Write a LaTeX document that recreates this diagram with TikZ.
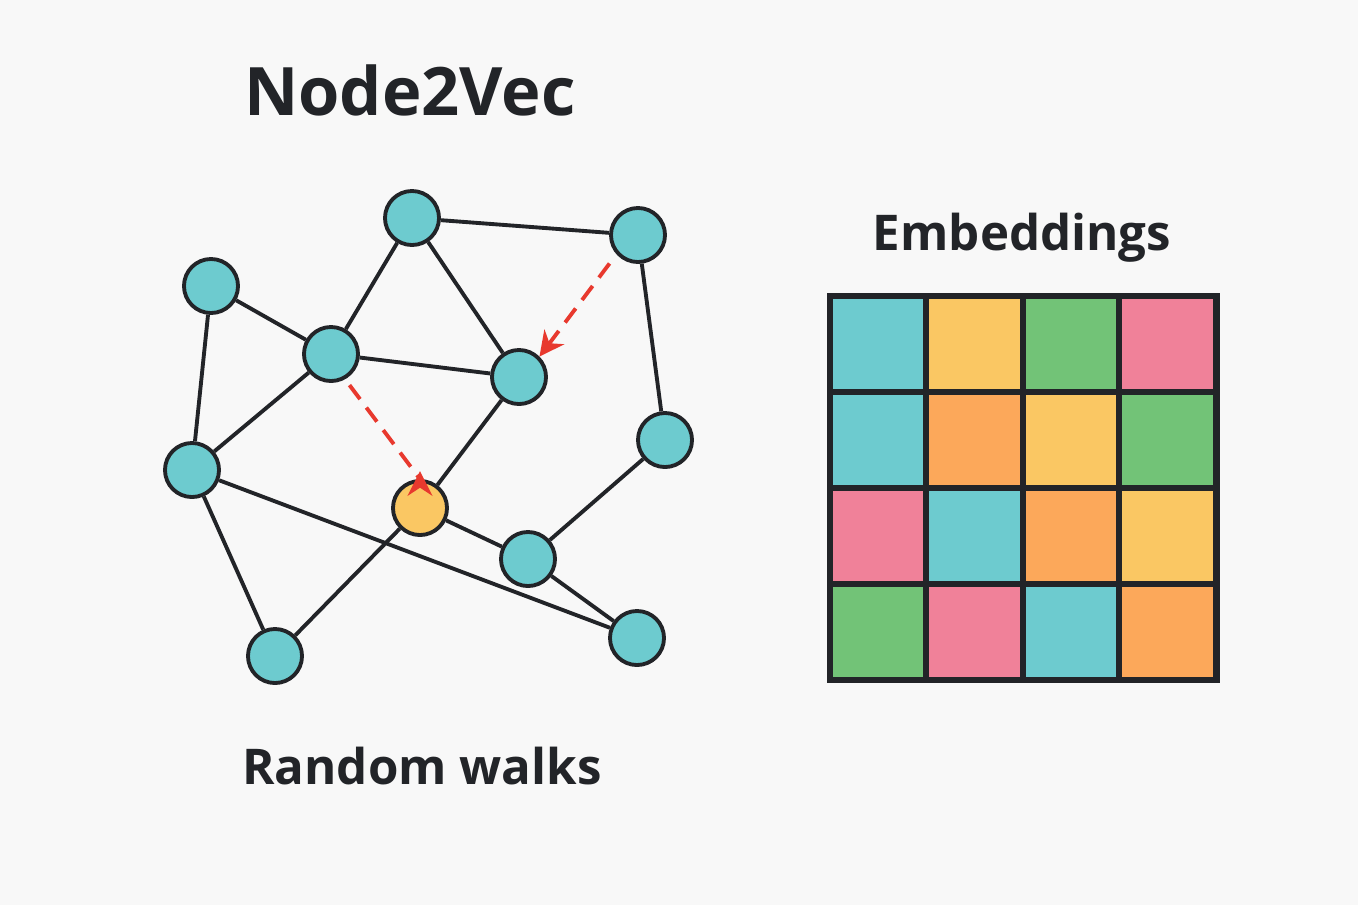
\documentclass[tikz,border=0pt]{standalone}
\usepackage{fontspec}
\setmainfont{Open Sans}
\usetikzlibrary{arrows.meta}
\definecolor{bg}{HTML}{F8F8F8}
\definecolor{tl}{HTML}{6DCBCF}
\definecolor{yl}{HTML}{FAC763}
\definecolor{gr}{HTML}{72C377}
\definecolor{pk}{HTML}{F08199}
\definecolor{or}{HTML}{FCA85A}
\definecolor{ink}{HTML}{222428}
\definecolor{rd}{HTML}{E8392E}
\begin{document}
\begin{tikzpicture}[x=0.01cm,y=-0.01cm,
  nd/.style={circle,draw=ink,line width=1.1pt,fill=tl,minimum size=0.54cm,inner sep=0pt},
  ed/.style={draw=ink,line width=1.1pt},
  wk/.style={draw=rd,line width=1.1pt,dash pattern=on 5pt off 3pt,-{Stealth[length=7pt,width=7pt]}},
  cell/.style={draw=ink,line width=1.2pt,minimum size=0.95cm,inner sep=0pt}]
\fill[bg] (0,0) rectangle (1358,905);
\useasboundingbox (0,0) rectangle (1358,905);
\node (A) [nd] at (412,218) {};
\node (B) [nd] at (638,235) {};
\node (C) [nd] at (211,286) {};
\node (D) [nd] at (331,354) {};
\node (E) [nd] at (519,377) {};
\node (F) [nd] at (665,440) {};
\node (G) [nd] at (192,470) {};
\node (H) [nd,fill=yl] at (420,508) {};
\node (I) [nd] at (528,559) {};
\node (J) [nd] at (637,638) {};
\node (K) [nd] at (275,656) {};
\begin{scope}[on background layer/.style={}]
\end{scope}
\foreach \a/\b in {A/B,A/D,A/E,C/D,C/G,D/E,D/G,B/F,E/H,F/I,G/K,G/J,H/I,H/K,I/J}
  \draw[ed] (\a) -- (\b);
\draw[wk] (B.225) ++(-8,8) coordinate (b1) (b1) -- (E.45);
\draw[wk] (D.-60) ++(4,6) coordinate (d1) (d1) -- (H.north) ++(0,-8);
\node[font=\fontsize{19}{22}\selectfont\bfseries,text=ink] (t1) at (410,90) {Node2Vec};
\node[font=\fontsize{14}{17}\selectfont\bfseries,text=ink] (t2) at (1022,238) {Embeddings};
\node[font=\fontsize{14}{17}\selectfont\bfseries,text=ink] (t3) at (422,766) {Random walks};
\foreach \row [count=\r from 0] in {{tl,yl,gr,pk},{tl,or,yl,gr},{pk,tl,or,yl},{gr,pk,tl,or}}
  \foreach \c [count=\k from 0] in \row
    \node[cell,fill=\c] (m\r\k) at (878+\k*96.5,344+\r*96) {};
\draw[ink,line width=1.5pt] (830,296) rectangle (1217,680);
\end{tikzpicture}
\end{document}
